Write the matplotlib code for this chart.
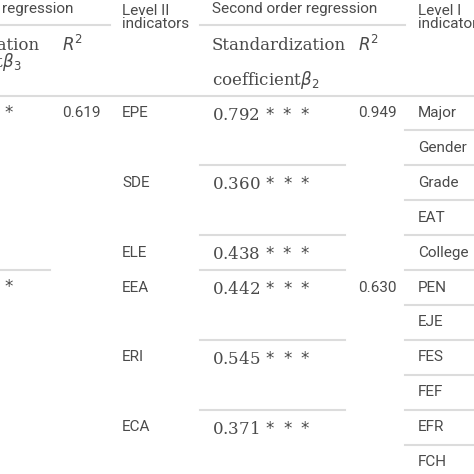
import matplotlib.pyplot as plt

# table content (cropped view of a regression results table)
level2 = ['EPE', 'SDE', 'ELE', 'EEA', 'ERI', 'ECA']
level2_rows = [0, 2, 4, 5, 7, 9]
coef2 = ['0.792', '0.360', '0.438', '0.442', '0.545', '0.371']
r2_second = ['0.949', '0.630']
r2_second_rows = [0, 5]
r2_third = ['0.619']
level1 = ['Major', 'Gender', 'Grade', 'EAT', 'College', 'PEN', 'EJE',
          'FES', 'FEF', 'EFR', 'FCH']

W = H = 474
fig = plt.figure(figsize=(4.74, 4.74), dpi=100)
ax = fig.add_axes([0, 0, 1, 1])
ax.set_xlim(0, W)
ax.set_ylim(H, 0)
ax.axis('off')

txt = '#4a4a4a'
line = '#dcdcdc'
sans = dict(color=txt, fontsize=11, family='Roboto', va='center')
serif = dict(color=txt, fontsize=12, family='DejaVu Serif', va='center')
stars = r'$\,*\,*\,*$'

def row_y(i):
    return 113 + i * 34.9

# rules
ax.plot([0, 110], [25, 25], color=line, lw=1.5)
ax.plot([200, 405], [25, 25], color=line, lw=1.5)
ax.plot([0, W], [96, 96], color=line, lw=1.5)
for i in range(1, len(level1)):
    ax.plot([405, W], [row_y(i) - 17.5] * 2, color=line, lw=1.5)
for r in level2_rows[1:]:
    ax.plot([200, 345], [row_y(r) - 17.5] * 2, color=line, lw=1.5)
ax.plot([0, 50], [row_y(5) - 17.5] * 2, color=line, lw=1.5)

# headers
ax.text(2, 9, 'regression', **sans)
ax.text(122, 4, 'Level II\nindicators', color=txt, fontsize=11, family='Roboto',
        va='top', linespacing=0.9)
ax.text(212, 9, 'Second order regression', **sans)
ax.text(418, 4, 'Level I\nindicators', color=txt, fontsize=11, family='Roboto',
        va='top', linespacing=0.9)
ax.text(40, 45, 'Standardization', ha='right', **serif)
ax.text(22, 62, r'coefficient$\beta_3$', ha='right', **serif)
ax.text(62, 45, r'$R^2$', **serif)
ax.text(212, 45, 'Standardization', **serif)
ax.text(358, 45, r'$R^2$', **serif)
ax.text(212, 80, r'coefficient$\beta_2$', **serif)

# body
ax.text(14, row_y(0), '0.5xx' + stars, ha='right', **serif)
ax.text(14, row_y(5), '0.4xx' + stars, ha='right', **serif)
ax.text(62, row_y(0), r2_third[0], **sans)
for name, c, r in zip(level2, coef2, level2_rows):
    ax.text(122, row_y(r), name, **sans)
    ax.text(212, row_y(r) + 2, c + stars, **serif)
for v, r in zip(r2_second, r2_second_rows):
    ax.text(358, row_y(r), v, **sans)
for i, name in enumerate(level1):
    ax.text(418, row_y(i), name, **sans)

fig.savefig('out.png', dpi=100)
